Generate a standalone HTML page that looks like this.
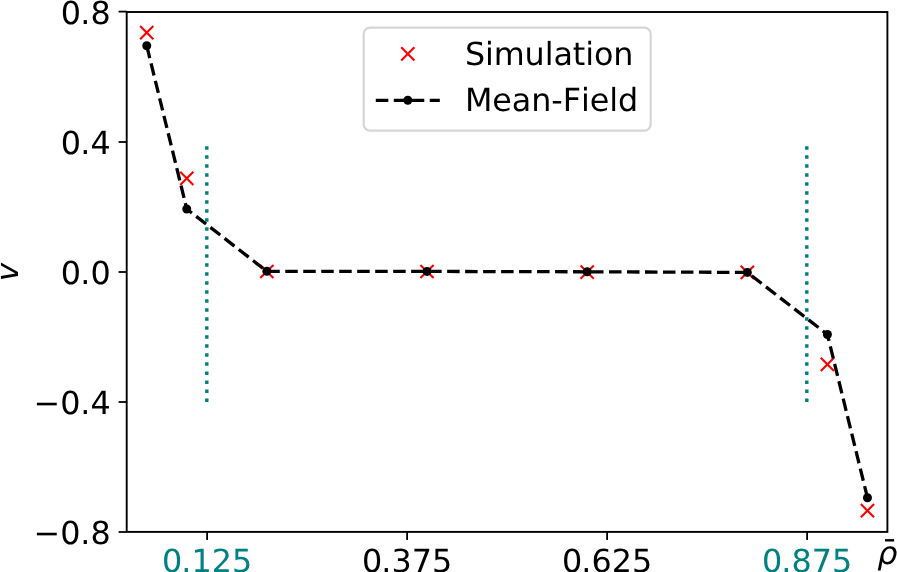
<!DOCTYPE html><html><head><meta charset="utf-8"><style>html,body{margin:0;padding:0;background:#fff;}svg{display:block;}text{font-family:"DejaVu Sans","Liberation Sans",sans-serif;font-kerning:none;text-rendering:geometricPrecision;}</style></head><body>
<svg width="897" height="572" viewBox="0 0 897 572">
<rect x="0" y="0" width="897" height="572" fill="#fff"/>
<line x1="206.80" y1="401.9" x2="206.80" y2="142.00" stroke="#008080" stroke-width="3.4" stroke-dasharray="3.5 5.507"/>
<line x1="806.80" y1="401.9" x2="806.80" y2="142.00" stroke="#008080" stroke-width="3.4" stroke-dasharray="3.5 5.507"/>
<path d="M140.14 26.10L153.34 39.30M140.14 39.30L153.34 26.10" stroke="#ff0000" stroke-width="2.1" fill="none"/>
<path d="M180.18 171.70L193.38 184.90M180.18 184.90L193.38 171.70" stroke="#ff0000" stroke-width="2.1" fill="none"/>
<path d="M260.26 264.90L273.46 278.10M260.26 278.10L273.46 264.90" stroke="#ff0000" stroke-width="2.1" fill="none"/>
<path d="M420.42 264.90L433.62 278.10M420.42 278.10L433.62 264.90" stroke="#ff0000" stroke-width="2.1" fill="none"/>
<path d="M580.58 265.50L593.78 278.70M580.58 278.70L593.78 265.50" stroke="#ff0000" stroke-width="2.1" fill="none"/>
<path d="M740.74 265.80L753.94 279.00M740.74 279.00L753.94 265.80" stroke="#ff0000" stroke-width="2.1" fill="none"/>
<path d="M820.82 357.70L834.02 370.90M820.82 370.90L834.02 357.70" stroke="#ff0000" stroke-width="2.1" fill="none"/>
<path d="M860.86 504.10L874.06 517.30M860.86 517.30L874.06 504.10" stroke="#ff0000" stroke-width="2.1" fill="none"/>
<polyline points="146.74,45.70 186.78,209.00 266.86,271.30 427.02,271.40 587.18,271.80 747.34,272.40 827.42,334.50 867.46,497.70" fill="none" stroke="#000" stroke-width="3.3" stroke-dasharray="12.5 5.487" stroke-dashoffset="-0.2" stroke-linejoin="round"/>
<circle cx="146.74" cy="45.70" r="4.5" fill="#000"/>
<circle cx="186.78" cy="209.00" r="4.5" fill="#000"/>
<circle cx="266.86" cy="271.30" r="4.5" fill="#000"/>
<circle cx="427.02" cy="271.40" r="4.5" fill="#000"/>
<circle cx="587.18" cy="271.80" r="4.5" fill="#000"/>
<circle cx="747.34" cy="272.40" r="4.5" fill="#000"/>
<circle cx="827.42" cy="334.50" r="4.5" fill="#000"/>
<circle cx="867.46" cy="497.70" r="4.5" fill="#000"/>
<rect x="126.7" y="12.0" width="760.70" height="519.90" fill="none" stroke="#000" stroke-width="1.9" stroke-linejoin="miter"/>
<line x1="118.60" y1="11.60" x2="126.70" y2="11.60" stroke="#000" stroke-width="1.8"/>
<text x="60.63 80.36 90.47" y="23.57" font-size="31.8" fill="#000">0.8</text>
<line x1="118.60" y1="142.00" x2="126.70" y2="142.00" stroke="#000" stroke-width="1.8"/>
<text x="60.63 80.36 90.47" y="153.57" font-size="31.8" fill="#000">0.4</text>
<line x1="118.60" y1="272.00" x2="126.70" y2="272.00" stroke="#000" stroke-width="1.8"/>
<text x="60.63 80.36 90.47" y="283.57" font-size="31.8" fill="#000">0.0</text>
<line x1="118.60" y1="402.00" x2="126.70" y2="402.00" stroke="#000" stroke-width="1.8"/>
<text x="33.48 60.13 80.36 90.47" y="413.57" font-size="31.8" fill="#000">−0.4</text>
<line x1="118.60" y1="532.00" x2="126.70" y2="532.00" stroke="#000" stroke-width="1.8"/>
<text x="33.48 60.13 80.36 90.47" y="543.58" font-size="31.8" fill="#000">−0.8</text>
<line x1="207.10" y1="531.90" x2="207.10" y2="539.90" stroke="#000" stroke-width="1.8"/>
<text x="161.98 181.31 191.42 211.65 231.89" y="572.0" font-size="31.8" fill="#008080">0.125</text>
<line x1="407.10" y1="531.90" x2="407.10" y2="539.90" stroke="#000" stroke-width="1.8"/>
<text x="361.98 381.31 391.42 411.65 431.89" y="572.0" font-size="31.8" fill="#000">0.375</text>
<line x1="607.10" y1="531.90" x2="607.10" y2="539.90" stroke="#000" stroke-width="1.8"/>
<text x="561.98 581.31 591.42 611.65 631.89" y="572.0" font-size="31.8" fill="#000">0.625</text>
<line x1="807.10" y1="531.90" x2="807.10" y2="539.90" stroke="#000" stroke-width="1.8"/>
<text x="761.98 781.31 791.42 811.65 831.89" y="572.0" font-size="31.8" fill="#008080">0.875</text>
<text x="877.3" y="563.5" font-size="31.8" font-style="italic" fill="#000">ρ</text>
<rect x="885.0" y="539.1" width="9.1" height="2.4" fill="#000"/>
<text transform="translate(18.0,281.2) rotate(-90)" x="0" y="0" font-size="31.2" font-style="italic" fill="#000">v</text>
<rect x="363.7" y="27.6" width="287.0" height="103.0" rx="6.36" ry="6.36" fill="#fff" stroke="#d6d6d6" stroke-width="2.2"/>
<path d="M401.20 47.20L414.40 60.40M401.20 60.40L414.40 47.20" stroke="#ff0000" stroke-width="2.1" fill="none"/>
<line x1="375.8" y1="100.3" x2="439.8" y2="100.3" stroke="#000" stroke-width="3.3" stroke-dasharray="12.5 5.487"/>
<circle cx="407.8" cy="100.3" r="4.5" fill="#000"/>
<text x="464.9" y="64.6" font-size="31.8" letter-spacing="-0.09" fill="#000">Simulation</text>
<text x="465.0" y="110.9" font-size="31.8" letter-spacing="-0.08" fill="#000">Mean-Field</text>
</svg></body></html>
